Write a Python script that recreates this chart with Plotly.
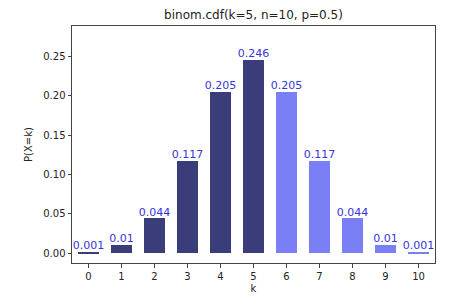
import plotly.graph_objects as go

k = list(range(11))
pmf = [0.001, 0.01, 0.044, 0.117, 0.205, 0.246, 0.205, 0.117, 0.044, 0.01, 0.001]
labels = ["0.001", "0.01", "0.044", "0.117", "0.205", "0.246", "0.205", "0.117", "0.044", "0.01", "0.001"]
k_cut = 5
dark = "#3a3d7a"
light = "#7b7ff5"
colors = [dark if x <= k_cut else light for x in k]

fig = go.Figure()
fig.add_trace(go.Bar(
    x=k, y=pmf, width=0.66, marker=dict(color=colors, line=dict(width=0)),
))
fig.add_trace(go.Scatter(
    x=k, y=pmf, mode="text", text=labels, textposition="top center", cliponaxis=False,
    textfont=dict(color="#3535e0", size=11, family="DejaVu Sans"),
))

axis_common = dict(showline=True, linecolor="#444", linewidth=1, mirror=True,
                   ticks="outside", ticklen=3.5, tickcolor="#444", showgrid=False,
                   zeroline=False, tickfont=dict(size=10, color="#222", family="DejaVu Sans"))

fig.update_layout(
    width=474, height=308,
    margin=dict(l=72, r=39, t=26, b=45),
    paper_bgcolor="white", plot_bgcolor="white",
    font=dict(family="DejaVu Sans", color="#222"),
    title=dict(text="binom.cdf(k=5, n=10, p=0.5)", x=(72 + 435) / 2 / 474, xanchor="center",
               y=1 - 15 / 308, yanchor="middle", font=dict(size=12, color="#222")),
    showlegend=False,
    bargap=0,
)
fig.update_xaxes(range=[-0.5, 10.5], tickmode="array", tickvals=k, ticktext=[str(x) for x in k],
                 title=dict(text="k", font=dict(size=10), standoff=4), **axis_common)
fig.update_yaxes(range=[-0.0127, 0.289], tickmode="array", tickvals=[0, 0.05, 0.1, 0.15, 0.2, 0.25],
                 ticktext=["0.00", "0.05", "0.10", "0.15", "0.20", "0.25"],
                 title=dict(text="P(X=k)", font=dict(size=10), standoff=8), **axis_common)

fig.write_html("out.html")
